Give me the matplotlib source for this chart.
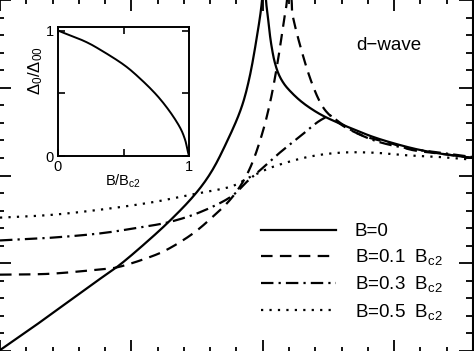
import numpy as np
import matplotlib
matplotlib.use("Agg")
import matplotlib.pyplot as plt
from matplotlib.ticker import MultipleLocator

plt.rcParams["font.family"] = ["Liberation Sans", "DejaVu Sans"]
plt.rcParams["mathtext.fontset"] = "custom"
plt.rcParams["mathtext.rm"] = "Liberation Sans"
plt.rcParams["mathtext.it"] = "Liberation Sans"

# main panel curves; each split at its peak
x_b0_lo = [0.0, 0.25, 0.5, 0.75, 0.91, 1.1, 1.29, 1.47, 1.6, 1.71, 1.83, 1.90, 1.96, 1.995, 2.01]
y_b0_lo = [0.01, 0.27, 0.54, 0.81, 0.98, 1.22, 1.48, 1.76, 2.02, 2.33, 2.74, 3.12, 3.62, 4.0, 4.4]
x_b0_hi = [2.01, 2.025, 2.04, 2.055, 2.07, 2.09, 2.12, 2.16, 2.21, 2.28, 2.36, 2.46, 2.59,
           2.72, 2.84, 2.99, 3.17, 3.35, 3.60]
y_b0_hi = [4.4, 4.0, 3.8, 3.6, 3.45, 3.30, 3.16, 3.05, 2.96, 2.86, 2.77, 2.68, 2.59,
           2.51, 2.44, 2.37, 2.30, 2.25, 2.20]

x_b01_lo = [0.0, 0.38, 0.76, 0.91, 1.14, 1.29, 1.47, 1.62, 1.75, 1.85, 1.93, 2.01, 2.07,
            2.12, 2.16, 2.185, 2.20]
y_b01_lo = [0.87, 0.88, 0.93, 0.96, 1.07, 1.17, 1.34, 1.53, 1.72, 1.93, 2.18, 2.55, 2.93,
            3.35, 3.75, 4.0, 4.4]
x_b01_hi = [2.20, 2.22, 2.23, 2.30, 2.375, 2.45, 2.53, 2.64, 2.79, 2.97, 3.14, 3.35, 3.60]
y_b01_hi = [4.4, 4.0, 3.81, 3.40, 3.05, 2.80, 2.66, 2.54, 2.44, 2.37, 2.29, 2.25, 2.20]

x_b03_lo = [0.0, 0.38, 0.76, 1.07, 1.29, 1.52, 1.75, 1.88, 1.98, 2.13, 2.28, 2.41, 2.51]
y_b03_lo = [1.26, 1.29, 1.34, 1.41, 1.47, 1.58, 1.75, 1.93, 2.06, 2.26, 2.44, 2.60, 2.69]
x_b03_hi = [2.51, 2.59, 2.72, 2.89, 3.10, 3.35, 3.60]
y_b03_hi = [2.69, 2.60, 2.48, 2.38, 2.31, 2.26, 2.21]

x_b05 = [0.0, 0.38, 0.76, 1.14, 1.45, 1.75, 1.90, 2.08, 2.34, 2.59, 2.84, 3.10, 3.35, 3.60]
y_b05 = [1.52, 1.55, 1.61, 1.69, 1.78, 1.87, 1.98, 2.10, 2.21, 2.26, 2.26, 2.23, 2.21, 2.18]

# inset: gap vs field
b_inset = [0.0, 0.005, 0.195, 0.32, 0.5, 0.625, 0.75, 0.85, 0.93, 0.97, 0.99, 1.0]
gap_inset = [1.02, 1.0, 0.92, 0.85, 0.73, 0.62, 0.49, 0.36, 0.23, 0.13, 0.04, 0.0]


def smooth(xs, ys, n=12):
    # Catmull-Rom through the read points
    p = np.column_stack([xs, ys]).astype(float)
    p = np.vstack([2 * p[0] - p[1], p, 2 * p[-1] - p[-2]])
    out = []
    t = np.linspace(0, 1, n, endpoint=False)[:, None]
    for i in range(1, len(p) - 2):
        p0, p1, p2, p3 = p[i - 1], p[i], p[i + 1], p[i + 2]
        seg = 0.5 * ((2 * p1) + (-p0 + p2) * t + (2 * p0 - 5 * p1 + 4 * p2 - p3) * t ** 2
                     + (-p0 + 3 * p1 - 3 * p2 + p3) * t ** 3)
        out.append(seg)
    out.append(p[-2][None, :])
    out = np.vstack(out)
    return out[:, 0], out[:, 1]


def branch(xa, ya, xb, yb):
    x1, y1 = smooth(xa, ya)
    x2, y2 = smooth(xb, yb)
    return np.concatenate([x1, x2]), np.concatenate([y1, y2])


W, H = 474, 351
fig = plt.figure(figsize=(W / 100, H / 100), dpi=100)

# main axes deliberately larger than the canvas (figure is a crop)
l_px, r_px, t_px, b_px = -3, 472.5, -3, 354
ax = fig.add_axes([l_px / W, 1 - b_px / H, (r_px - l_px) / W, (b_px - t_px) / H])
ax.set_xlim(l_px / 131.35, r_px / 131.35)
ax.set_ylim((351 - b_px) / 87.75, (351 - t_px) / 87.75)

lw = 1.6
ax.plot(*branch(x_b0_lo, y_b0_lo, x_b0_hi, y_b0_hi), color="black", lw=lw, label="B=0")
ax.plot(*branch(x_b01_lo, y_b01_lo, x_b01_hi, y_b01_hi), color="black", lw=lw,
        linestyle=(0, (5.2, 3.3)), label=r"B=0.1  $\mathregular{B_{c2}}$")
ax.plot(*branch(x_b03_lo, y_b03_lo, x_b03_hi, y_b03_hi), color="black", lw=lw,
        linestyle=(0, (5.6, 2.3, 1, 2.3)), label=r"B=0.3  $\mathregular{B_{c2}}$")
ax.plot(*smooth(x_b05, y_b05), color="black", lw=lw, linestyle=(0, (1, 2.8)),
        label=r"B=0.5  $\mathregular{B_{c2}}$")

ax.xaxis.set_major_locator(MultipleLocator(1))
ax.xaxis.set_minor_locator(MultipleLocator(0.2))
ax.yaxis.set_major_locator(MultipleLocator(1))
ax.yaxis.set_minor_locator(MultipleLocator(0.2))
ax.tick_params(which="both", direction="in", top=True, right=True,
               labelbottom=False, labelleft=False, width=1.3)
ax.tick_params(which="major", length=10)
ax.tick_params(which="minor", length=5)
for s in ax.spines.values():
    s.set_linewidth(1.5)

ax.text(389 / 131.35, (351 - 45) / 87.75, "d\u2212wave", fontsize=13.5,
        ha="center", va="center")

ax.legend(loc="upper left", bbox_to_anchor=(264 / (r_px - l_px), 1 - 226 / (b_px - t_px)),
          frameon=False, fontsize=13.5, handlelength=4.0, handletextpad=1.0,
          labelspacing=0.38, borderpad=0, borderaxespad=0)

# inset
ix0, ix1, iy0, iy1 = 58, 189, 27, 156
ins = fig.add_axes([ix0 / W, 1 - iy1 / H, (ix1 - ix0) / W, (iy1 - iy0) / H])
ins.plot(*smooth(b_inset, gap_inset), color="black", lw=1.4)
ins.set_xlim(0, 1)
ins.set_ylim(0, 1.03)
ins.set_xticks([0, 0.5, 1])
ins.set_xticklabels(["0", "", "1"])
ins.set_yticks([0, 0.5, 1])
ins.set_yticklabels(["0", "", "1"])
ins.tick_params(direction="in", top=True, right=True, length=5, width=1.2,
                labelsize=10.5, pad=3)
for s in ins.spines.values():
    s.set_linewidth(1.4)
ins.set_xlabel(r"B/$\mathregular{B_{c2}}$", fontsize=10.5, labelpad=-1)
ins.set_ylabel(r"$\mathregular{\Delta_0/\Delta_{00}}$", fontsize=12)
ins.yaxis.set_label_coords(-0.10, 0.66)

fig.savefig("out.png", dpi=100)
